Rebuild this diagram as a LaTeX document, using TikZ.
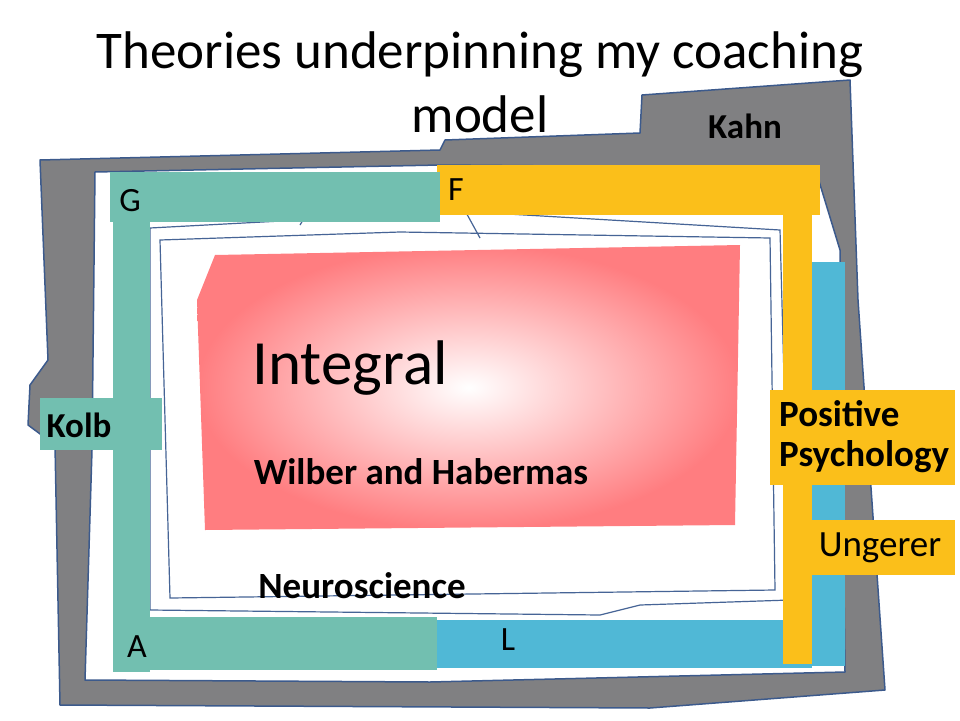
\documentclass[tikz,border=0pt]{standalone}
\usepackage{fontspec}
\setmainfont{Carlito}
\begin{document}
\begin{tikzpicture}[x=1pt,y=-1pt,
  outl/.style={draw={rgb,255:red,60;green,90;blue,140},line width=1.5pt,line join=round},
  sketch/.style={draw={rgb,255:red,70;green,100;blue,150},line width=1.2pt},
  teal/.style={fill={rgb,255:red,114;green,191;blue,176}},
  yel/.style={fill={rgb,255:red,251;green,191;blue,26}},
  blu/.style={fill={rgb,255:red,80;green,184;blue,214}},
  lab/.style={font=\fontsize{34}{36}\selectfont,text=black,inner sep=0pt},
  blab/.style={font=\bfseries\fontsize{37}{40}\selectfont,text=black,align=left,inner sep=0pt}]
\useasboundingbox (0,0) rectangle (960,720);
% gray frame
\path[outl,fill={rgb,255:red,128;green,128;blue,130}] (40,160) -- (440,150) -- (445,140) -- (640,133) -- (642,95) -- (850,80) -- (858,300) -- (885,690) -- (650,708) -- (60,705) -- (55,445) -- (28,425) -- (30,385) -- (48,360) -- cycle;
\path[outl,fill=white] (95,172) -- (440,165) -- (815,168) -- (840,250) -- (845,672) -- (430,682) -- (85,680) -- (92,450) -- cycle;
% inner sketchy white region
\path[sketch,fill=white] (150,228) -- (300,220) -- (440,210) -- (780,230) -- (790,600) -- (640,605) -- (600,615) -- (150,610) -- cycle;
\draw[sketch] (160,240) -- (400,232) -- (770,238) -- (775,590) -- (170,598) -- cycle;
\draw[sketch] (440,165) -- (480,238);
\draw[sketch] (300,225) -- (330,175);
% pink gradient
\shade[inner color=white,outer color={rgb,255:red,255;green,125;blue,128}] (215,255) -- (740,245) -- (735,525) -- (205,530) -- (197,300) -- cycle;
% bars
\path[blu] (810,262) rectangle (845,666);
\path[blu] (437,620) rectangle (812,668);
\path[yel] (437,165) rectangle (820,215);
\path[yel] (783,165) rectangle (812,664);
\path[teal] (110,172) rectangle (440,222);
\path[teal] (113,172) rectangle (150,672);
\path[teal] (40,398) rectangle (162,450);
\path[teal] (115,617) rectangle (437,670);
\path[yel] (770,390) rectangle (955,485);
\path[yel] (810,520) rectangle (955,575);
% text
\node[font=\fontsize{53}{64}\selectfont,align=center] (title) at (480,82) {Theories underpinning my coaching\\model};
\node[lab] (G) at (130,201) {G};
\node[lab] (F) at (456,190) {F};
\node[lab] (A) at (137,647) {A};
\node[lab] (Lt) at (508,640) {L};
\node[blab,font=\bfseries\fontsize{35}{36}\selectfont] (kahn) at (745,126) {Kahn};
\node[blab,font=\bfseries\fontsize{35}{36}\selectfont] (kolb) at (79,425) {Kolb};
\node[font=\fontsize{63}{70}\selectfont] (integral) at (350,368) {Integral};
\node[blab] (wh) at (421,472) {Wilber and Habermas};
\node[blab] (neuro) at (362,586) {Neuroscience};
\node[blab,anchor=west,font=\bfseries\fontsize{37}{40}\selectfont] (pp) at (779,437) {Positive\\Psychology};
\node[lab,font=\fontsize{37}{40}\selectfont] (ung) at (880,548) {Ungerer};
\end{tikzpicture}
\end{document}
